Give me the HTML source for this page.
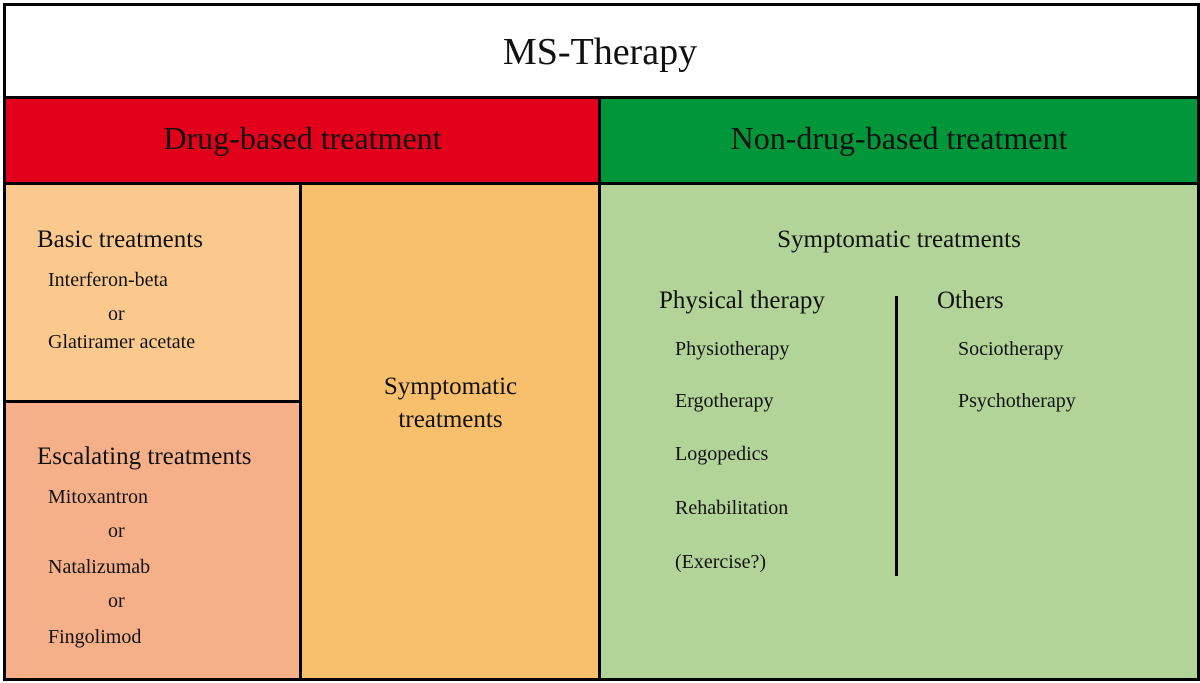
<!DOCTYPE html>
<html><head><meta charset="utf-8"><style>
body{margin:0;width:1200px;height:683px;background:#fff;position:relative;overflow:hidden;font-family:"Liberation Serif",serif;color:#111}
.b{position:absolute;box-sizing:border-box}
.t{position:absolute;white-space:nowrap}
</style></head><body>
<div class="b" style="left:3px;top:3px;width:1197px;height:678px;border:3px solid #000"></div>
<div class="b" style="left:6px;top:99px;width:593px;height:84px;background:#e2001a"></div>
<div class="b" style="left:601px;top:99px;width:596px;height:84px;background:#009639"></div>
<div class="b" style="left:6px;top:185px;width:293px;height:215px;background:#fbc98e"></div>
<div class="b" style="left:6px;top:403px;width:293px;height:275px;background:#f5b08a"></div>
<div class="b" style="left:302px;top:185px;width:297px;height:493px;background:#f8bf6c"></div>
<div class="b" style="left:601px;top:185px;width:596px;height:493px;background:#b2d498"></div>
<div class="b" style="left:3px;top:96px;width:1197px;height:3px;background:#000"></div>
<div class="b" style="left:3px;top:182px;width:1197px;height:3px;background:#000"></div>
<div class="b" style="left:598px;top:96px;width:3px;height:585px;background:#000"></div>
<div class="b" style="left:299px;top:182px;width:3px;height:499px;background:#000"></div>
<div class="b" style="left:3px;top:400px;width:298px;height:3px;background:#000"></div>
<div class="b" style="left:895px;top:296px;width:3px;height:280px;background:#000"></div>

<div class="t" style="left:0;width:1200px;text-align:center;top:30px;font-size:38px">MS-Therapy</div>
<div class="t" style="left:6px;width:593px;text-align:center;top:120px;font-size:32px">Drug-based treatment</div>
<div class="t" style="left:601px;width:596px;text-align:center;top:120px;font-size:32px">Non-drug-based treatment</div>

<div class="t" style="left:37px;top:226px;font-size:25px">Basic treatments</div>
<div class="t" style="left:48px;top:269px;font-size:20px">Interferon-beta</div>
<div class="t" style="left:108px;top:303px;font-size:20px">or</div>
<div class="t" style="left:48px;top:331px;font-size:20px">Glatiramer acetate</div>

<div class="t" style="left:37px;top:443px;font-size:25px">Escalating treatments</div>
<div class="t" style="left:48px;top:486px;font-size:20px">Mitoxantron</div>
<div class="t" style="left:108px;top:520px;font-size:20px">or</div>
<div class="t" style="left:48px;top:556px;font-size:20px">Natalizumab</div>
<div class="t" style="left:108px;top:590px;font-size:20px">or</div>
<div class="t" style="left:48px;top:626px;font-size:20px">Fingolimod</div>

<div class="t" style="left:302px;width:297px;text-align:center;top:370px;font-size:25px;line-height:33px">Symptomatic<br>treatments</div>

<div class="t" style="left:601px;width:596px;text-align:center;top:226px;font-size:25px">Symptomatic treatments</div>
<div class="t" style="left:659px;top:287px;font-size:25px">Physical therapy</div>
<div class="t" style="left:675px;top:338px;font-size:20px">Physiotherapy</div>
<div class="t" style="left:675px;top:390px;font-size:20px">Ergotherapy</div>
<div class="t" style="left:675px;top:443px;font-size:20px">Logopedics</div>
<div class="t" style="left:675px;top:497px;font-size:20px">Rehabilitation</div>
<div class="t" style="left:675px;top:551px;font-size:20px">(Exercise?)</div>
<div class="t" style="left:937px;top:287px;font-size:25px">Others</div>
<div class="t" style="left:958px;top:338px;font-size:20px">Sociotherapy</div>
<div class="t" style="left:958px;top:390px;font-size:20px">Psychotherapy</div>
</body></html>
